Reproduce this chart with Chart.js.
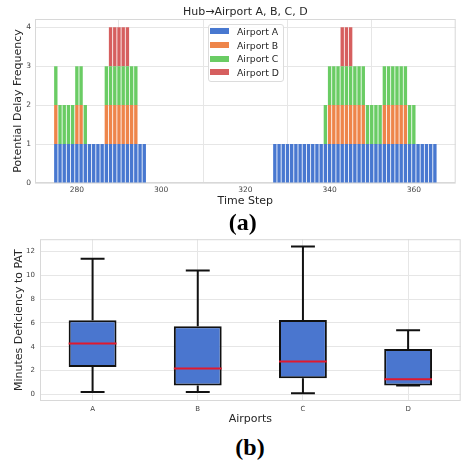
<!DOCTYPE html>
<html>
<head>
<meta charset="utf-8">
<script src="https://cdn.jsdelivr.net/npm/chart.js@4.4.0/dist/chart.umd.min.js"></script>
<style>
  html, body { margin: 0; padding: 0; background: #fff; }
  #wrap { position: relative; width: 474px; height: 469px; overflow: hidden; font-family: "DejaVu Sans", sans-serif; }
  .holder { position: absolute; left: 0; width: 474px; }
  #holder1 { top: 0; height: 212px; }
  #holder2 { top: 230px; height: 200px; }
  .panel { position: absolute; font-family: "Liberation Serif", serif; font-weight: bold; font-size: 24px; line-height: 24px; transform: translate(-50%, -50%); color: #000; }
  #legend1 { position: absolute; left: 207.5px; top: 23.5px; width: 76px; box-sizing: border-box; padding: 0 0 1.5px 1.5px; border: 1px solid #dcdcdc; border-radius: 3px; background: rgba(255,255,255,0.85); }
  #legend1 .row { height: 13.7px; display: flex; align-items: center; font-size: 9.3px; color: #262626; white-space: nowrap; }
  #legend1 .sw { width: 19px; height: 6px; margin-right: 8px; flex: none; }
</style>
</head>
<body>
<div id="wrap">
  <div class="holder" id="holder1"><canvas id="delayChart"></canvas></div>
  <div id="legend1"></div>
  <div class="panel" style="left:242.7px; top:221.7px;">(a)</div>
  <div class="holder" id="holder2"><canvas id="boxChart"></canvas></div>
  <div class="panel" style="left:250px; top:446.7px;">(b)</div>
</div>
<script>
// Panel (a): delay frequency per time step
const timeSteps = [
  275, 276, 277, 278, 279, 280, 281, 282, 283, 284, 285, 286, 287, 288, 289, 290, 291, 292, 293, 294, 295, 296,
  327, 328, 329, 330, 331, 332, 333, 334, 335, 336, 337, 338, 339, 340, 341, 342, 343, 344, 345, 346, 347, 348,
  349, 350, 351, 352, 353, 354, 355, 356, 357, 358, 359, 360, 361, 362, 363, 364, 365
];
const airportA = [
  1, 1, 1, 1, 1, 1, 1, 1, 1, 1, 1, 1, 1, 1, 1, 1, 1, 1, 1, 1, 1, 1,
  1, 1, 1, 1, 1, 1, 1, 1, 1, 1, 1, 1, 1, 1, 1, 1, 1, 1, 1, 1, 1, 1,
  1, 1, 1, 1, 1, 1, 1, 1, 1, 1, 1, 1, 1, 1, 1, 1, 1
];
const airportB = [
  1, 0, 0, 0, 0, 1, 1, 0, 0, 0, 0, 0, 1, 1, 1, 1, 1, 1, 1, 1, 0, 0,
  0, 0, 0, 0, 0, 0, 0, 0, 0, 0, 0, 0, 0, 1, 1, 1, 1, 1, 1, 1, 1, 1,
  0, 0, 0, 0, 1, 1, 1, 1, 1, 1, 0, 0, 0, 0, 0, 0, 0
];
const airportC = [
  1, 1, 1, 1, 1, 1, 1, 1, 0, 0, 0, 0, 1, 1, 1, 1, 1, 1, 1, 1, 0, 0,
  0, 0, 0, 0, 0, 0, 0, 0, 0, 0, 0, 0, 1, 1, 1, 1, 1, 1, 1, 1, 1, 1,
  1, 1, 1, 1, 1, 1, 1, 1, 1, 1, 1, 1, 0, 0, 0, 0, 0
];
const airportD = [
  0, 0, 0, 0, 0, 0, 0, 0, 0, 0, 0, 0, 0, 1, 1, 1, 1, 1, 0, 0, 0, 0,
  0, 0, 0, 0, 0, 0, 0, 0, 0, 0, 0, 0, 0, 0, 0, 0, 1, 1, 1, 0, 0, 0,
  0, 0, 0, 0, 0, 0, 0, 0, 0, 0, 0, 0, 0, 0, 0, 0, 0
];
const timeTicks = [280, 300, 320, 340, 360];
const freqTicks = [0, 1, 2, 3, 4];

// Panel (b): box plot stats per airport
const airports = ['A', 'B', 'C', 'D'];
const whiskerLow = [0.2, 0.2, 0.1, 0.74];
const quartile1 = [2.3, 0.74, 1.35, 0.74];
const medians = [4.28, 2.18, 2.76, 1.28];
const quartile3 = [6.22, 5.72, 6.25, 3.82];
const whiskerHigh = [11.39, 10.4, 12.42, 5.39];
const minuteTicks = [0, 2, 4, 6, 8, 10, 12];

const FONT = '"DejaVu Sans", sans-serif';
const GRID = '#e6e6e6';

// light grey box round the plot area
const frame = {
  id: 'frame',
  beforeDatasetsDraw(chart) {
    const { ctx, chartArea: a } = chart;
    ctx.save();
    ctx.strokeStyle = '#d8d8d8';
    ctx.lineWidth = 1;
    ctx.strokeRect(a.left + 0.5, a.top + 0.5, a.width - 1, a.height - 1);
    ctx.restore();
  }
};

function series(label, values, color) {
  return {
    label: label,
    data: values.map((v, i) => ({ x: timeSteps[i], y: v })),
    backgroundColor: color,
    borderWidth: 0,
    categoryPercentage: 1,
    barPercentage: 0.8
  };
}

const chart1 = new Chart(document.getElementById('delayChart'), {
  type: 'bar',
  data: {
    datasets: [
      series('Airport A', airportA, '#4878d0'),
      series('Airport B', airportB, '#ee854a'),
      series('Airport C', airportC, '#6acc64'),
      series('Airport D', airportD, '#d65f5f')
    ]
  },
  options: {
    responsive: true,
    maintainAspectRatio: false,
    animation: false,
    layout: { padding: { left: 0, right: 18.3, top: 0, bottom: 0 } },
    plugins: {
      legend: { display: false },
      tooltip: { enabled: false },
      title: {
        display: true,
        text: 'Hub→Airport A, B, C, D',
        fullSize: false,
        color: '#262626',
        font: { family: FONT, size: 11, weight: 'normal' },
        padding: { top: 5.4, bottom: 0.4 }
      }
    },
    scales: {
      x: {
        type: 'linear',
        stacked: true,
        min: 270.06,
        max: 369.94,
        offset: false,
        afterBuildTicks: s => { s.ticks = timeTicks.map(v => ({ value: v })); },
        afterFit: s => { s.height = 29; },
        grid: { color: GRID, drawTicks: false },
        border: { display: false },
        ticks: { color: '#444', font: { family: FONT, size: 7.5 }, padding: 3, maxRotation: 0 },
        title: { display: true, text: 'Time Step', color: '#262626', font: { family: FONT, size: 11 }, padding: { top: 0, bottom: 4.7 } }
      },
      y: {
        stacked: true,
        min: 0,
        max: 4.21,
        afterBuildTicks: s => { s.ticks = freqTicks.map(v => ({ value: v })); },
        afterFit: s => { s.width = 35; },
        grid: { color: GRID, drawTicks: false },
        border: { display: false },
        ticks: { color: '#444', font: { family: FONT, size: 7.5 }, padding: 4 },
        title: { display: true, text: 'Potential Delay Frequency', color: '#262626', font: { family: FONT, size: 11 }, padding: { top: 12, bottom: 0 } }
      }
    }
  },
  plugins: [frame]
});

// legend box, built from the chart's own legend items
const legendBox = document.getElementById('legend1');
chart1.options.plugins.legend.labels.generateLabels(chart1).forEach(item => {
  const row = document.createElement('div');
  row.className = 'row';
  const sw = document.createElement('span');
  sw.className = 'sw';
  sw.style.background = item.fillStyle;
  row.appendChild(sw);
  row.appendChild(document.createTextNode(item.text));
  legendBox.appendChild(row);
});

// whiskers, caps and median lines drawn on top of the boxes
const boxWhiskers = {
  id: 'boxWhiskers',
  afterDatasetsDraw(chart) {
    const { ctx, scales: { x, y } } = chart;
    const meta = chart.getDatasetMeta(0);
    ctx.save();
    ctx.lineWidth = 2;
    meta.data.forEach((bar, i) => {
      const cx = x.getPixelForValue(i);
      const half = bar.width / 2;
      const cap = bar.width / 4;
      const yLo = y.getPixelForValue(whiskerLow[i]);
      const yHi = y.getPixelForValue(whiskerHigh[i]);
      const yQ1 = y.getPixelForValue(quartile1[i]);
      const yQ3 = y.getPixelForValue(quartile3[i]);
      const yMed = y.getPixelForValue(medians[i]);
      ctx.strokeStyle = '#111';
      ctx.beginPath();
      ctx.moveTo(cx, yQ1); ctx.lineTo(cx, yLo);
      ctx.moveTo(cx - cap, yLo); ctx.lineTo(cx + cap, yLo);
      ctx.moveTo(cx, yQ3); ctx.lineTo(cx, yHi);
      ctx.moveTo(cx - cap, yHi); ctx.lineTo(cx + cap, yHi);
      ctx.stroke();
      ctx.strokeStyle = '#e0192e';
      ctx.beginPath();
      ctx.moveTo(cx - half, yMed); ctx.lineTo(cx + half, yMed);
      ctx.stroke();
    });
    ctx.restore();
  }
};

new Chart(document.getElementById('boxChart'), {
  type: 'bar',
  data: {
    labels: airports,
    datasets: [{
      label: 'IQR',
      data: quartile1.map((q, i) => [q, quartile3[i]]),
      backgroundColor: '#4a76cf',
      borderColor: '#111',
      borderWidth: 2,
      borderSkipped: false,
      categoryPercentage: 1,
      barPercentage: 0.455
    }]
  },
  options: {
    responsive: true,
    maintainAspectRatio: false,
    animation: false,
    layout: { padding: { left: 0, right: 13.3, top: 7.3, bottom: 0 } },
    plugins: {
      legend: { display: false },
      tooltip: { enabled: false }
    },
    scales: {
      x: {
        afterFit: s => { s.height = 29; },
        grid: { color: GRID, drawTicks: false, offset: false },
        border: { display: false },
        ticks: { color: '#444', font: { family: FONT, size: 7 }, padding: 4 },
        title: { display: true, text: 'Airports', color: '#262626', font: { family: FONT, size: 11 }, padding: { top: 0, bottom: 4.4 } }
      },
      y: {
        min: -0.556,
        max: 13.03,
        afterBuildTicks: s => { s.ticks = minuteTicks.map(v => ({ value: v })); },
        afterFit: s => { s.width = 40; },
        grid: { color: GRID, drawTicks: false },
        border: { display: false },
        ticks: { color: '#444', font: { family: FONT, size: 7 }, padding: 5 },
        title: { display: true, text: 'Minutes Deficiency to PAT', color: '#262626', font: { family: FONT, size: 11 }, padding: { top: 12.4, bottom: 0 } }
      }
    }
  },
  plugins: [frame, boxWhiskers]
});
</script>
</body>
</html>
